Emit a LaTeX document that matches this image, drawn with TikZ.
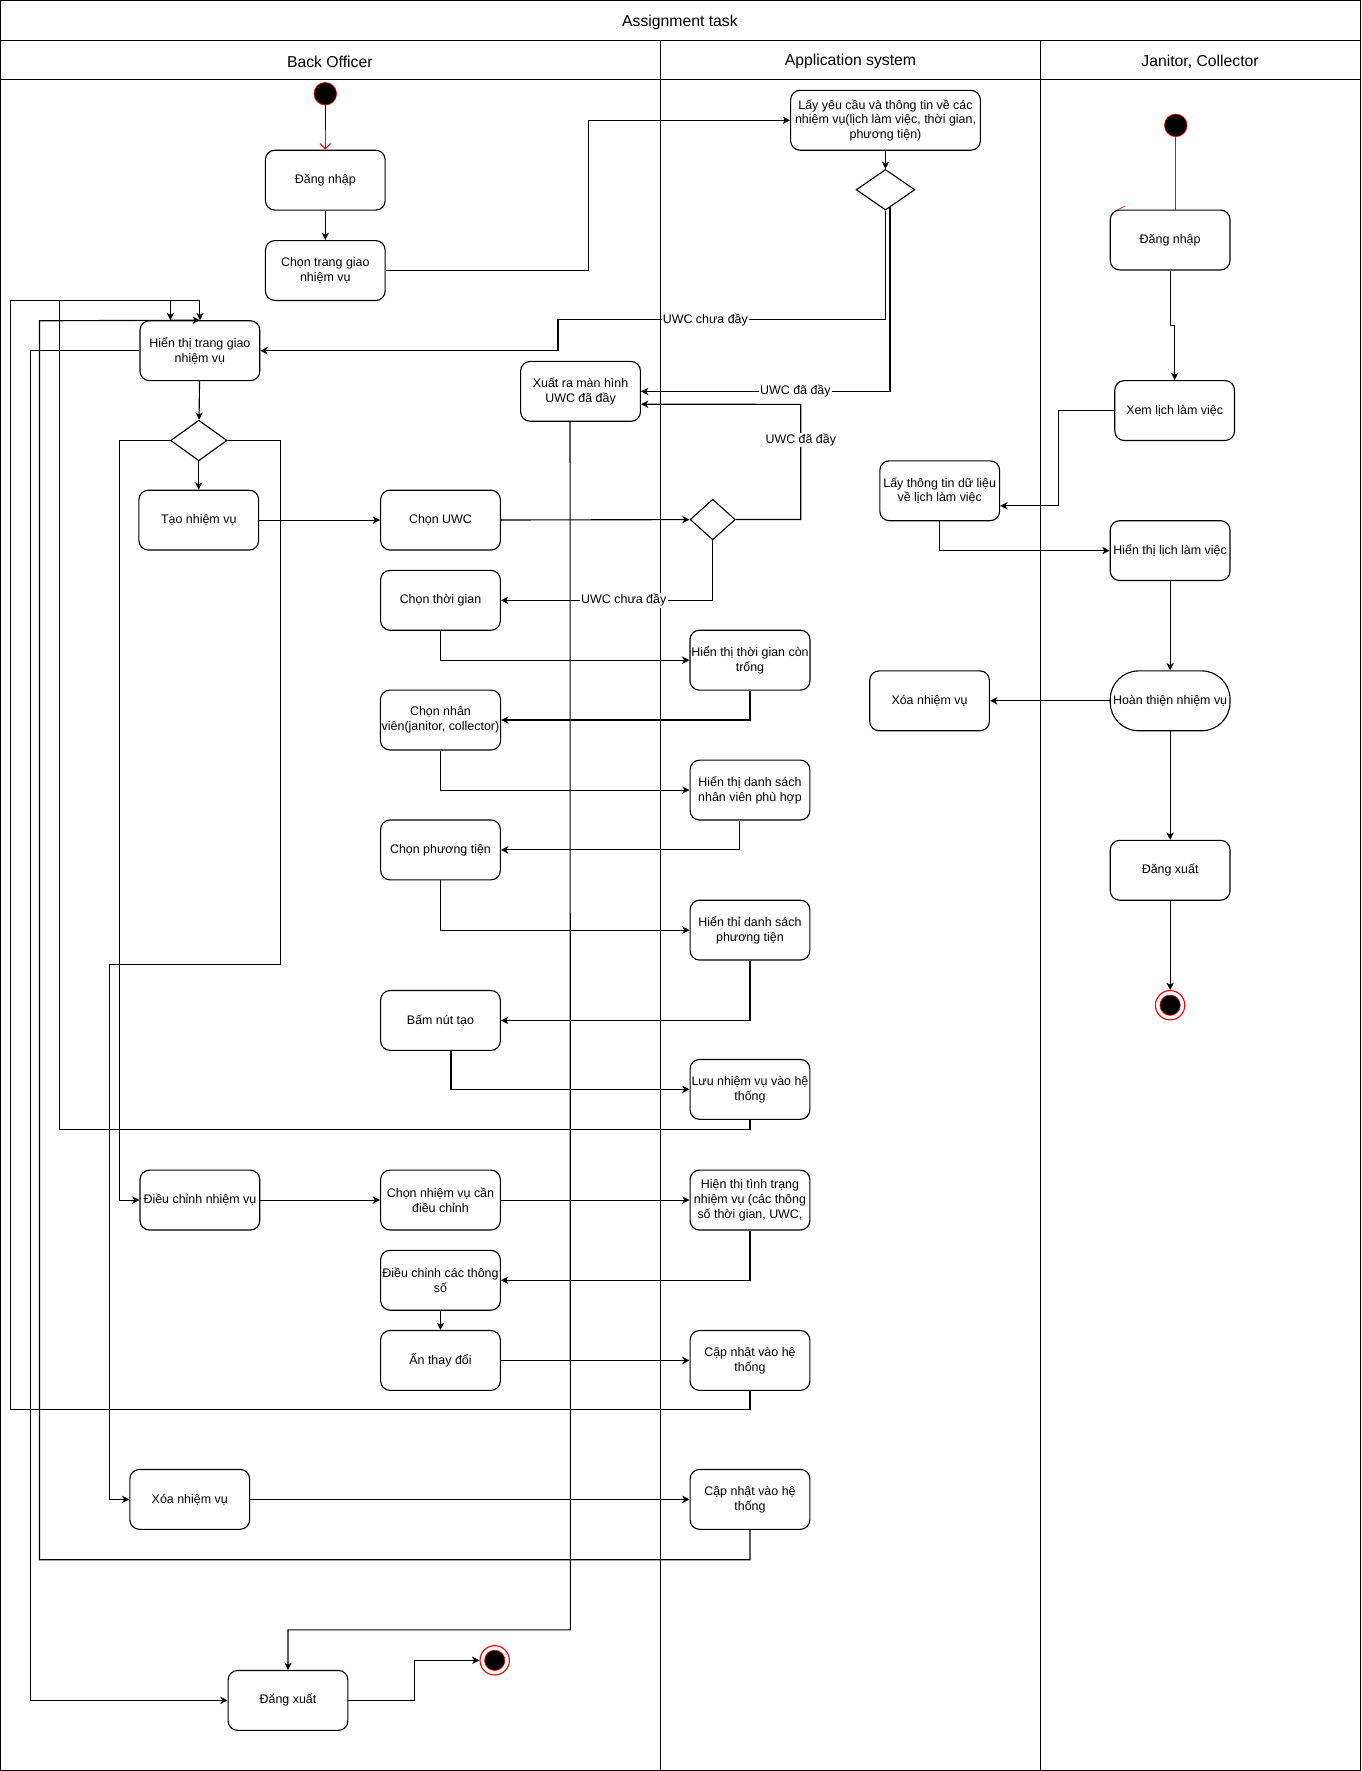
\documentclass[tikz,border=0pt]{standalone}
\usepackage{fontspec}
\setmainfont{Liberation Sans}
\usetikzlibrary{arrows.meta,shapes.geometric}

\begin{document}
\begin{tikzpicture}
    [x=0.03cm,y=-0.03cm,line width=0.85pt,
     post/.style={-{Stealth[length=5.5pt,width=5.5pt,inset=1.5pt]}},
     act/.style={rectangle,rounded corners=0.25cm,draw=black,fill=white,
       minimum width=3.18cm,minimum height=1.59cm,inner sep=1pt,align=center,
       font=\fontsize{9.4}{11.1}\selectfont},
     choice/.style={diamond,draw=black,fill=white,minimum height=1.08cm,inner sep=0pt},
     start/.style={circle,fill=black,draw=red,line width=0.5pt,minimum size=0.6cm,inner sep=0pt},
     finish/.style={circle,draw=red,fill=white,minimum size=0.78cm,inner sep=0pt,
       path picture={\filldraw[draw=red,fill=black,line width=0.5pt]
         (path picture bounding box.center) circle (0.27cm);}},
     lbl/.style={fill=white,inner sep=1pt,font=\fontsize{9.4}{11.1}\selectfont},
     head/.style={font=\fontsize{11.9}{14}\selectfont}]
    \useasboundingbox (0,0) rectangle (1205,1568);
    % pool and lanes
    \draw (0.5,0.5) rectangle (1204.5,1567.5);
    \draw (0.5,36) -- (1204.5,36);
    \draw (0.5,70) -- (1204.5,70);
    \draw (585,36) -- (585,1567.5);
    \draw (921,36) -- (921,1567.5);
    \node [head] (title) at (602,19.5) {Assignment task};
    \node [head] (lane1) at (292,54.5) {Back Officer};
    \node [head] (lane2) at (753,54.5) {Application system};
    \node [head] (lane3) at (1062.5,54.5) {Janitor, Collector};
    % Back Officer
    \node [start] (s1) at (288,83) {};
    \node [act] (dn1) at (288,159.5) {Đăng nhập};
    \node [act] (ctg) at (288,239.5) {Chọn trang giao\\nhiệm vụ};
    \node [act] (htg) at (177,310.5) {Hiển thị trang giao\\nhiệm vụ};
    \node [choice,minimum width=1.5cm] (d1) at (176,390) {};
    \node [act] (tnv) at (176,460.5) {Tạo nhiệm vụ};
    \node [act] (cuwc) at (390,460.5) {Chọn UWC};
    \node [act] (ctgian) at (390,531.5) {Chọn thời gian};
    \node [act] (cnv) at (390,637.5) {Chọn nhân\\viên(janitor, collector)};
    \node [act] (cpt) at (390,752.5) {Chọn phương tiện};
    \node [act] (bnt) at (390,903.5) {Bấm nút tạo};
    \node [act] (dcnv) at (177,1062.5) {Điều chỉnh nhiệm vụ};
    \node [act] (cnvc) at (390,1062.5) {Chọn nhiệm vụ cần\\điều chỉnh};
    \node [act] (dcts) at (390,1133.5) {Điều chỉnh các thông\\số};
    \node [act] (atd) at (390,1204.5) {Ấn thay đổi};
    \node [act] (xnv1) at (168,1327.5) {Xóa nhiệm vụ};
    \node [act] (dx1) at (255,1505.5) {Đăng xuất};
    \node [finish] (e1) at (438,1470) {};
    \node [act] (xmh) at (514,346.5) {Xuất ra màn hình\\UWC đã đầy};
    % Application system
    \node [act,minimum width=5.04cm] (lyc) at (784,106.5)
      {Lấy yêu cầu và thông tin về các\\nhiệm vụ(lịch làm việc, thời gian,\\phương tiện)};
    \node [choice,minimum width=1.56cm] (d2) at (784,168) {};
    \node [choice,minimum width=1.2cm] (d3) at (631,460) {};
    \node [act] (httg) at (664,584.5) {Hiển thị thời gian còn\\trống};
    \node [act] (htnv) at (664,699.5) {Hiển thị danh sách\\nhân viên phù hợp};
    \node [act] (htpt) at (664,823.5) {Hiển thỉ danh sách\\phương tiện};
    \node [act] (luu) at (664,964.5) {Lưu nhiệm vụ vào hệ\\thống};
    \node [act] (httt) at (664,1062.5) {Hiện thị tình trạng\\nhiệm vụ (các thông\\số thời gian, UWC,};
    \node [act] (cn1) at (664,1204.5) {Cập nhật vào hệ\\thống};
    \node [act] (cn2) at (664,1327.5) {Cập nhật vào hệ\\thống};
    \node [act] (ltt) at (832,434.5) {Lấy thông tin dữ liệu\\về lịch làm việc};
    % Janitor, Collector
    \node [start] (s2) at (1041,111) {};
    \node [act] (dn2) at (1036,212.5) {Đăng nhập};
    \node [act] (xl) at (1040,363.5) {Xem lịch làm việc};
    \node [act] (htl) at (1036,487.5) {Hiển thị lịch làm việc};
    \node [act,rounded corners=0.75cm] (ht) at (1036,620.5) {Hoàn thiện nhiệm vụ};
    \node [act] (xnv2) at (823,620.5) {Xóa nhiệm vụ};
    \node [act] (dx2) at (1036,770.5) {Đăng xuất};
    \node [finish] (e2) at (1036,890) {};
    % flows, Back Officer
    \draw (s1) -- (288,115);
    \draw [red,-{Straight Barb[length=4pt,width=8pt]}] (288,115) -- (dn1);
    \draw [post] (dn1) -- (ctg);
    \draw [post] (ctg.east) -- (521,239.5) |- (lyc.west);
    \draw [post] (lyc) -- (d2);
    \draw [post] (d2.south) -- (784,283) -- node [lbl,pos=0.55] {UWC chưa đầy} (494,283)
      -- (494,310.5) -- (htg.east);
    \draw [post] (788,183) |- node [lbl,pos=0.69] {UWC đã đầy} (xmh.east);
    \draw [post] (htg) -- (d1);
    \draw [post] (d1.west) -- (106,390) |- (dcnv.west);
    \draw [post] (d1) -- (tnv);
    \draw [post] (d1.east) -- (248,390) -- (248,854) -- (97,854) |- (xnv1.west);
    \draw [post] (tnv) -- (cuwc);
    \draw [post] (cuwc) -- (d3);
    \draw [post] (d3.east) -- (709,460) -- node [lbl,pos=0.69] {UWC đã đầy} (709,358)
      -- (xmh.-12);
    \draw [post] (d3.south) |- node [lbl,pos=0.71] {UWC chưa đầy} (ctgian.east);
    \draw [post] (ctgian.south) |- (httg.west);
    \draw [post] (httg.south) |- (cnv.east);
    \draw [post] (cnv.south) |- (htnv.west);
    \draw [post] (htnv.-109) |- (cpt.east);
    \draw [post] (cpt.south) |- (htpt.west);
    \draw [post] (htpt.south) |- (bnt.east);
    \draw [post] (bnt.-71) |- (luu.west);
    \draw [post] (luu.south) -- (664,1000) -| (53,266) -| (htg.134.5);
    \draw [post] (cn1.south) -- (664,1248) -| (9,266) -| (htg.north);
    \draw [post] (cn2.south) -- (664,1381) -| (35,284) -- (htg.north);
    \draw [post] (xmh.-109) -- (505,1443) -| (dx1.north);
    \draw [post] (htg.west) -- (27,310.5) |- (dx1.west);
    \draw [post] (dx1.east) -- (367,1505.5) |- (e1.west);
    \draw [post] (dcnv) -- (cnvc);
    \draw [post] (cnvc) -- (httt);
    \draw [post] (httt.south) |- (dcts.east);
    \draw [post] (dcts) -- (atd);
    \draw [post] (atd) -- (cn1);
    \draw [post] (xnv1) -- (cn2);
    % flows, Janitor
    \draw [red] (s2) -- (s2 |- dn2.north);
    \draw [red,line width=0.5pt] (989,186) -- (996,182.4);
    \draw [post] (dn2.south) -- (1036,288) -| (xl.north);
    \draw [post] (xl.west) -- (937,363.5) |- (ltt.-14);
    \draw [post] (ltt.south) |- (htl.west);
    \draw [post] (htl) -- (ht);
    \draw [post] (ht) -- (xnv2);
    \draw [post] (ht) -- (dx2);
    \draw [post] (dx2) -- (e2);
  \end{tikzpicture}
\end{document}
